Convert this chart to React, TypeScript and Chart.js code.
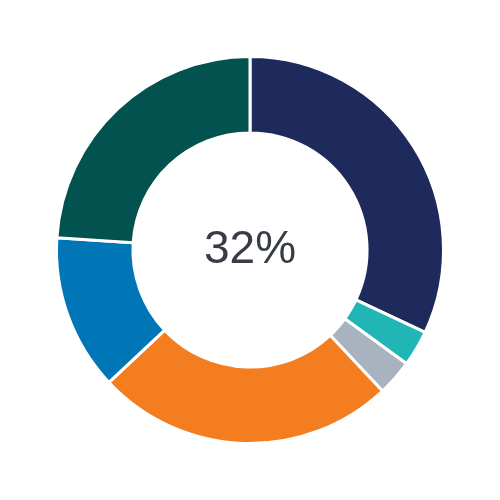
import React, { useEffect, useRef } from "react";
import { Chart, registerables } from "chart.js";

Chart.register(...registerables);

const labels = ["A", "B", "C", "D", "E", "F"];
const values = [32, 3, 3, 25, 13, 24];
const colors = ["#1d2a5b", "#1fb6b5", "#a9b3c0", "#f47d20", "#0176b6", "#02534f"];
const centerLabel = "32%";

const centerText = {
  id: "centerText",
  afterDraw(chart: any) {
    const meta = chart.getDatasetMeta(0);
    const arc = meta.data[0];
    if (!arc) return;
    const { ctx } = chart;
    ctx.save();
    ctx.font = "46px 'Liberation Sans', Arial, sans-serif";
    ctx.fillStyle = "#383d45";
    ctx.textAlign = "center";
    ctx.textBaseline = "alphabetic";
    ctx.fillText(centerLabel, arc.x, arc.y + 13);
    ctx.restore();
  },
};

export default function App() {
  const ref = useRef<HTMLCanvasElement | null>(null);
  useEffect(() => {
    if (!ref.current) return;
    const chart = new Chart(ref.current, {
      type: "doughnut",
      data: {
        labels,
        datasets: [
          {
            data: values,
            backgroundColor: colors,
            borderColor: "#ffffff",
            borderWidth: 3,
          },
        ],
      },
      options: {
        animation: false,
        responsive: false,
        cutout: "60.5%",
        layout: { padding: 55 },
        plugins: {
          legend: { display: false },
          tooltip: { enabled: false },
        },
      },
      plugins: [centerText],
    });
    return () => chart.destroy();
  }, []);
  return (
    <div style={{ position: "absolute", left: 0, top: 0, width: 500, height: 500, background: "#fff" }}>
      <canvas ref={ref} width={500} height={500} style={{ width: 500, height: 500 }} />
    </div>
  );
}
